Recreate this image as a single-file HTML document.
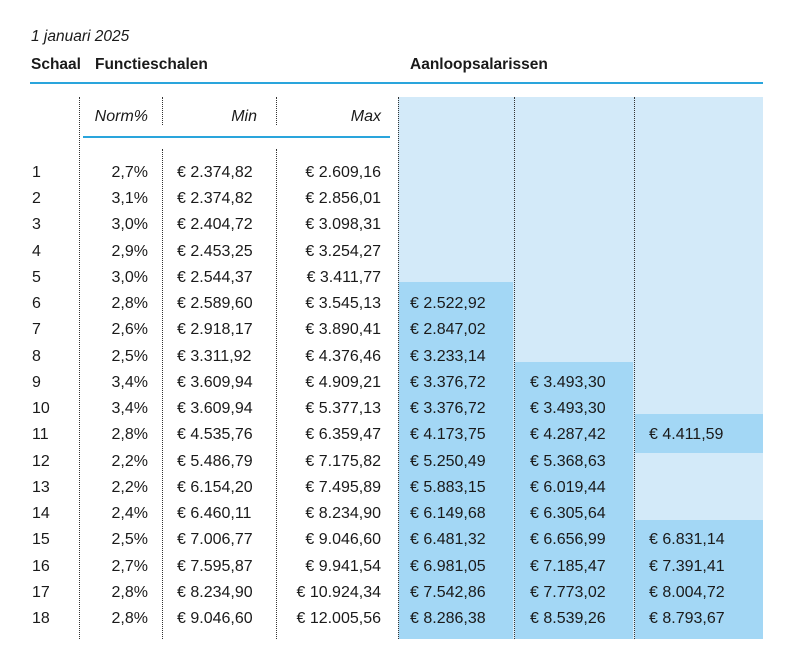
<!DOCTYPE html>
<html><head><meta charset="utf-8"><style>
body{margin:0;background:#fff;width:791px;height:670px;position:relative;overflow:hidden;font-family:"Liberation Sans",sans-serif;color:#1a1a1a;font-size:16px}
.a{position:absolute;white-space:nowrap}
.r{position:absolute;height:26px;line-height:26px;white-space:nowrap}
.v{position:absolute;border-left:1.5px dotted #333;width:0}
.b{position:absolute}
</style></head><body>
<div class="b" style="left:398px;top:97px;width:365px;height:542px;background:#d3eaf9"></div>
<div class="b" style="left:399px;top:282px;width:114px;height:357px;background:#a3d7f5"></div>
<div class="b" style="left:515px;top:362px;width:118px;height:277px;background:#a3d7f5"></div>
<div class="b" style="left:635px;top:414px;width:128px;height:39px;background:#a3d7f5"></div>
<div class="b" style="left:635px;top:520px;width:128px;height:119px;background:#a3d7f5"></div>

<div class="a" style="left:31px;top:28px;font-style:italic;font-size:15.5px">1 januari 2025</div>
<div class="a" style="left:31px;top:56px;font-weight:bold;font-size:15.5px">Schaal</div>
<div class="a" style="left:95px;top:56px;font-weight:bold;font-size:15.5px">Functieschalen</div>
<div class="a" style="left:410px;top:56px;font-weight:bold;font-size:15.5px">Aanloopsalarissen</div>
<div class="b" style="left:30px;top:82px;width:733px;height:2px;background:#2aa5dc"></div>
<div class="b" style="left:83px;top:136px;width:307px;height:2px;background:#2aa5dc"></div>

<div class="a" style="right:643px;top:108px;font-style:italic">Norm%</div>
<div class="a" style="right:534px;top:108px;font-style:italic">Min</div>
<div class="a" style="right:410px;top:108px;font-style:italic">Max</div>

<div class="v" style="left:79px;top:97px;height:542px"></div>
<div class="v" style="left:162px;top:97px;height:28px"></div>
<div class="v" style="left:162px;top:149px;height:490px"></div>
<div class="v" style="left:276px;top:97px;height:28px"></div>
<div class="v" style="left:276px;top:149px;height:490px"></div>
<div class="v" style="left:398px;top:97px;height:542px"></div>
<div class="v" style="left:514px;top:97px;height:542px"></div>
<div class="v" style="left:634px;top:97px;height:542px"></div>

<div style="position:absolute;left:0;top:0">
<div class="r" style="top:160px;left:32px">1</div><div class="r" style="top:160px;right:-148px">2,7%</div><div class="r" style="top:160px;left:177px">€ 2.374,82</div><div class="r" style="top:160px;right:-381px">€ 2.609,16</div>
<div class="r" style="top:186px;left:32px">2</div><div class="r" style="top:186px;right:-148px">3,1%</div><div class="r" style="top:186px;left:177px">€ 2.374,82</div><div class="r" style="top:186px;right:-381px">€ 2.856,01</div>
<div class="r" style="top:212px;left:32px">3</div><div class="r" style="top:212px;right:-148px">3,0%</div><div class="r" style="top:212px;left:177px">€ 2.404,72</div><div class="r" style="top:212px;right:-381px">€ 3.098,31</div>
<div class="r" style="top:239px;left:32px">4</div><div class="r" style="top:239px;right:-148px">2,9%</div><div class="r" style="top:239px;left:177px">€ 2.453,25</div><div class="r" style="top:239px;right:-381px">€ 3.254,27</div>
<div class="r" style="top:265px;left:32px">5</div><div class="r" style="top:265px;right:-148px">3,0%</div><div class="r" style="top:265px;left:177px">€ 2.544,37</div><div class="r" style="top:265px;right:-381px">€ 3.411,77</div>
<div class="r" style="top:291px;left:32px">6</div><div class="r" style="top:291px;right:-148px">2,8%</div><div class="r" style="top:291px;left:177px">€ 2.589,60</div><div class="r" style="top:291px;right:-381px">€ 3.545,13</div><div class="r" style="top:291px;left:410px">€ 2.522,92</div>
<div class="r" style="top:317px;left:32px">7</div><div class="r" style="top:317px;right:-148px">2,6%</div><div class="r" style="top:317px;left:177px">€ 2.918,17</div><div class="r" style="top:317px;right:-381px">€ 3.890,41</div><div class="r" style="top:317px;left:410px">€ 2.847,02</div>
<div class="r" style="top:344px;left:32px">8</div><div class="r" style="top:344px;right:-148px">2,5%</div><div class="r" style="top:344px;left:177px">€ 3.311,92</div><div class="r" style="top:344px;right:-381px">€ 4.376,46</div><div class="r" style="top:344px;left:410px">€ 3.233,14</div>
<div class="r" style="top:370px;left:32px">9</div><div class="r" style="top:370px;right:-148px">3,4%</div><div class="r" style="top:370px;left:177px">€ 3.609,94</div><div class="r" style="top:370px;right:-381px">€ 4.909,21</div><div class="r" style="top:370px;left:410px">€ 3.376,72</div><div class="r" style="top:370px;left:530px">€ 3.493,30</div>
<div class="r" style="top:396px;left:32px">10</div><div class="r" style="top:396px;right:-148px">3,4%</div><div class="r" style="top:396px;left:177px">€ 3.609,94</div><div class="r" style="top:396px;right:-381px">€ 5.377,13</div><div class="r" style="top:396px;left:410px">€ 3.376,72</div><div class="r" style="top:396px;left:530px">€ 3.493,30</div>
<div class="r" style="top:422px;left:32px">11</div><div class="r" style="top:422px;right:-148px">2,8%</div><div class="r" style="top:422px;left:177px">€ 4.535,76</div><div class="r" style="top:422px;right:-381px">€ 6.359,47</div><div class="r" style="top:422px;left:410px">€ 4.173,75</div><div class="r" style="top:422px;left:530px">€ 4.287,42</div><div class="r" style="top:422px;left:649px">€ 4.411,59</div>
<div class="r" style="top:449px;left:32px">12</div><div class="r" style="top:449px;right:-148px">2,2%</div><div class="r" style="top:449px;left:177px">€ 5.486,79</div><div class="r" style="top:449px;right:-381px">€ 7.175,82</div><div class="r" style="top:449px;left:410px">€ 5.250,49</div><div class="r" style="top:449px;left:530px">€ 5.368,63</div>
<div class="r" style="top:475px;left:32px">13</div><div class="r" style="top:475px;right:-148px">2,2%</div><div class="r" style="top:475px;left:177px">€ 6.154,20</div><div class="r" style="top:475px;right:-381px">€ 7.495,89</div><div class="r" style="top:475px;left:410px">€ 5.883,15</div><div class="r" style="top:475px;left:530px">€ 6.019,44</div>
<div class="r" style="top:501px;left:32px">14</div><div class="r" style="top:501px;right:-148px">2,4%</div><div class="r" style="top:501px;left:177px">€ 6.460,11</div><div class="r" style="top:501px;right:-381px">€ 8.234,90</div><div class="r" style="top:501px;left:410px">€ 6.149,68</div><div class="r" style="top:501px;left:530px">€ 6.305,64</div>
<div class="r" style="top:527px;left:32px">15</div><div class="r" style="top:527px;right:-148px">2,5%</div><div class="r" style="top:527px;left:177px">€ 7.006,77</div><div class="r" style="top:527px;right:-381px">€ 9.046,60</div><div class="r" style="top:527px;left:410px">€ 6.481,32</div><div class="r" style="top:527px;left:530px">€ 6.656,99</div><div class="r" style="top:527px;left:649px">€ 6.831,14</div>
<div class="r" style="top:554px;left:32px">16</div><div class="r" style="top:554px;right:-148px">2,7%</div><div class="r" style="top:554px;left:177px">€ 7.595,87</div><div class="r" style="top:554px;right:-381px">€ 9.941,54</div><div class="r" style="top:554px;left:410px">€ 6.981,05</div><div class="r" style="top:554px;left:530px">€ 7.185,47</div><div class="r" style="top:554px;left:649px">€ 7.391,41</div>
<div class="r" style="top:580px;left:32px">17</div><div class="r" style="top:580px;right:-148px">2,8%</div><div class="r" style="top:580px;left:177px">€ 8.234,90</div><div class="r" style="top:580px;right:-381px">€ 10.924,34</div><div class="r" style="top:580px;left:410px">€ 7.542,86</div><div class="r" style="top:580px;left:530px">€ 7.773,02</div><div class="r" style="top:580px;left:649px">€ 8.004,72</div>
<div class="r" style="top:606px;left:32px">18</div><div class="r" style="top:606px;right:-148px">2,8%</div><div class="r" style="top:606px;left:177px">€ 9.046,60</div><div class="r" style="top:606px;right:-381px">€ 12.005,56</div><div class="r" style="top:606px;left:410px">€ 8.286,38</div><div class="r" style="top:606px;left:530px">€ 8.539,26</div><div class="r" style="top:606px;left:649px">€ 8.793,67</div>
</div>
</body></html>
